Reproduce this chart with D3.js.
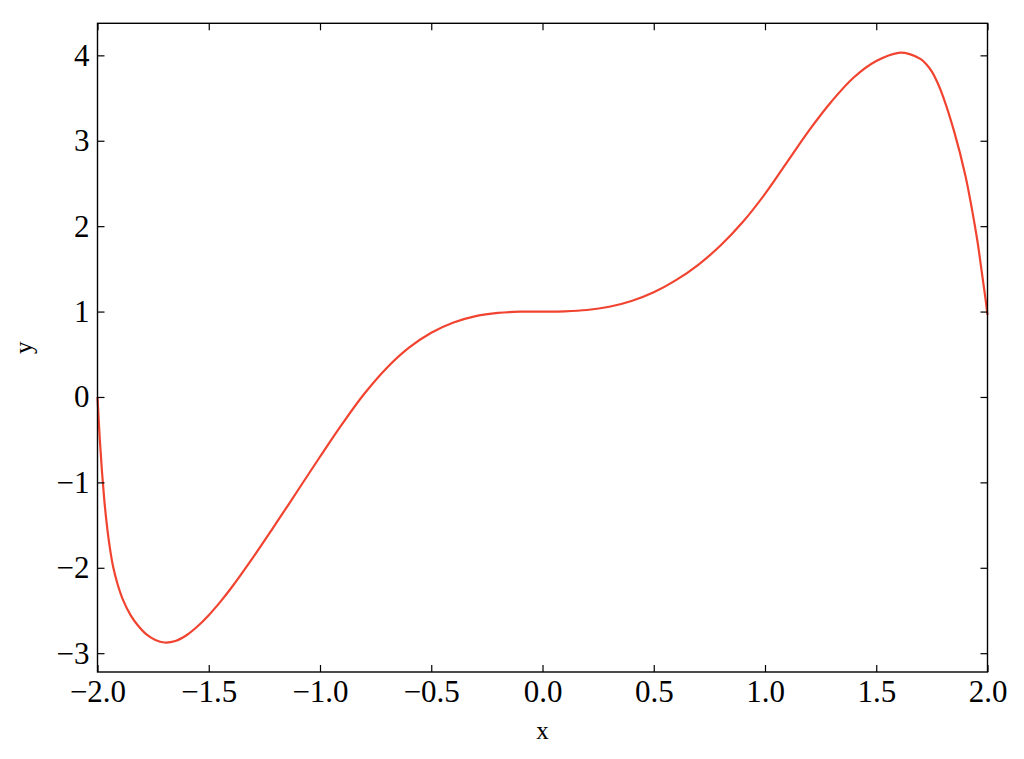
<!DOCTYPE html>
<html>
<head>
<meta charset="utf-8">
<script src="https://cdn.jsdelivr.net/npm/d3@7/dist/d3.min.js"></script>
<style>
	body { margin: 0; background: #ffffff; }
	text { font-family: "Liberation Serif", "Times New Roman", "DejaVu Serif", serif; fill: #000; }
	.axis path, .axis line { stroke: #000; }
</style>
</head>
<body>
<div id="chart-area"></div>
<script>

// Curve samples (x, y)
var xValues = [
	-2.0, -1.99, -1.98, -1.97, -1.96, -1.95, -1.94, -1.93, -1.91, -1.884,
	-1.85, -1.82, -1.78, -1.74, -1.7, -1.65, -1.6, -1.55, -1.5, -1.45,
	-1.4, -1.3, -1.2, -1.1, -1.0, -0.9, -0.8, -0.7, -0.6, -0.5,
	-0.4, -0.3, -0.2, -0.1, 0.0, 0.1, 0.2, 0.3, 0.4, 0.5,
	0.6, 0.7, 0.8, 0.9, 1.0, 1.1, 1.2, 1.3, 1.4, 1.5,
	1.6, 1.65, 1.7, 1.725, 1.75, 1.775, 1.8, 1.85, 1.9, 1.93,
	1.955, 1.975, 1.99, 2.0
];
var yValues = [
	0.0, -0.48, -0.87, -1.19, -1.45, -1.665, -1.84, -1.985, -2.19, -2.385,
	-2.56, -2.67, -2.78, -2.845, -2.875, -2.858, -2.79, -2.685, -2.555, -2.405,
	-2.24, -1.875, -1.49, -1.095, -0.70, -0.315, 0.04, 0.34, 0.577, 0.752,
	0.872, 0.947, 0.985, 0.999, 1.0, 1.003, 1.018, 1.056, 1.124, 1.226,
	1.368, 1.548, 1.773, 2.048, 2.378, 2.753, 3.128, 3.463, 3.743, 3.933,
	4.03, 4.015, 3.955, 3.897, 3.81, 3.682, 3.52, 3.11, 2.6, 2.2,
	1.82, 1.45, 1.17, 0.96
];

// Tick values
var xTicks = [-2.0, -1.5, -1.0, -0.5, 0.0, 0.5, 1.0, 1.5, 2.0];
var yTicks = [-3, -2, -1, 0, 1, 2, 3, 4];


// Canvas and plot box
var W = 1024, H = 759;
var margin = { top : 23.3, bottom : 87, left : 97.5, right : 36.5 };
var width  = W - margin.left - margin.right;
var height = H - margin.top  - margin.bottom;

var svg = d3.select('#chart-area')
	.append('svg')
		.attr('width', W)
		.attr('height', H);

var g = svg.append('g')
	.attr('transform', 'translate(' + margin.left + ', ' + margin.top + ')');


// Pair the arrays into points
var data = xValues.map(function(x, i) { return { x : x, y : yValues[i] }; });


// Scales: x fixed to [-2, 2], y gets a 5% margin like matplotlib
var x = d3.scaleLinear()
	.domain([-2, 2])
	.range([0, width]);

var yExt = d3.extent(data, function(d) { return d.y; });
var pad  = (yExt[1] - yExt[0]) * 0.05;
var y = d3.scaleLinear()
	.domain([yExt[0] - pad, yExt[1] + pad])
	.range([height, 0]);


// Curve
var line = d3.line()
	.x(function(d) { return x(d.x); })
	.y(function(d) { return y(d.y); })
	.curve(d3.curveCatmullRom.alpha(0.5));

g.append('path')
	.datum(data)
	.attr('fill', 'none')
	.attr('stroke', '#f14430')
	.attr('stroke-width', 2.2)
	.attr('d', line);


// Axes, ticks pointing inward on all four sides
var tick = 7;
var fmtX = d3.format('.1f');
var fmtY = d3.format('d');

g.append('g')
	.attr('class', 'axis')
	.attr('transform', 'translate(0,' + height + ')')
	.call(d3.axisBottom(x).tickValues(xTicks).tickFormat(fmtX)
		.tickSizeInner(-tick).tickSizeOuter(0).tickPadding(8));

g.append('g')
	.attr('class', 'axis')
	.call(d3.axisTop(x).tickValues(xTicks).tickFormat('')
		.tickSizeInner(-tick).tickSizeOuter(0));

g.append('g')
	.attr('class', 'axis')
	.call(d3.axisLeft(y).tickValues(yTicks).tickFormat(fmtY)
		.tickSizeInner(-tick).tickSizeOuter(0).tickPadding(8));

g.append('g')
	.attr('class', 'axis')
	.attr('transform', 'translate(' + width + ',0)')
	.call(d3.axisRight(y).tickValues(yTicks).tickFormat('')
		.tickSizeInner(-tick).tickSizeOuter(0));

g.selectAll('.axis line').attr('stroke-width', 1.2);
g.selectAll('.axis text').attr('font-size', '31px')
	.attr('font-family', '"Liberation Serif", "Times New Roman", serif');
g.selectAll('.axis .domain').remove();


// Frame around the plot
g.append('rect')
	.attr('x', 0)
	.attr('y', 0)
	.attr('width', width)
	.attr('height', height)
	.attr('fill', 'none')
	.attr('stroke', '#000')
	.attr('stroke-width', 1.4);


// Axis labels
g.append('text')
	.attr('x', width / 2)
	.attr('y', height + 67)
	.attr('font-size', '25px')
	.attr('text-anchor', 'middle')
	.text('x');

g.append('text')
	.attr('transform', 'translate(' + (32 - margin.left) + ',' + (height / 2) + ') rotate(-90)')
	.attr('font-size', '25px')
	.attr('text-anchor', 'middle')
	.text('y');

</script>
</body>
</html>
